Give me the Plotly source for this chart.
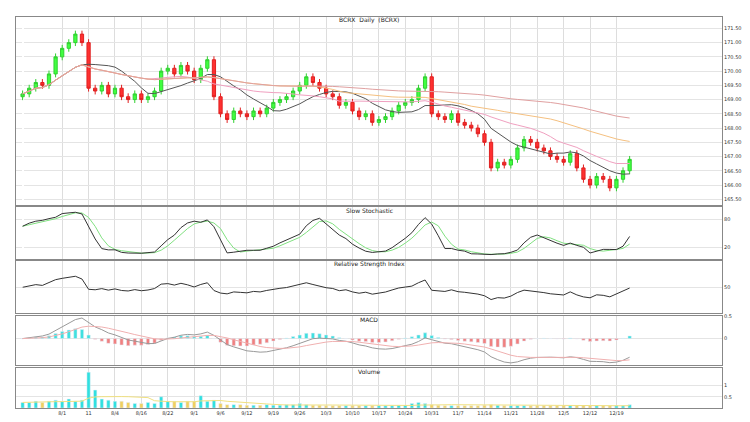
import numpy as np
import plotly.graph_objects as go
from plotly.subplots import make_subplots

# ---------- data ----------
closes = [169.2, 169.4, 169.6, 169.5, 169.9, 170.5, 170.8, 171.0, 171.3, 171.0,
          169.4, 169.3, 169.5, 169.2, 169.4, 169.1, 169.0, 169.2, 169.0, 169.1,
          169.3, 170.0, 170.1, 169.9, 170.2, 170.0, 169.7, 170.1, 170.4, 169.1,
          168.5, 168.3, 168.6, 168.5, 168.4, 168.6, 168.5, 168.7, 168.9, 169.0,
          169.1, 169.3, 169.5, 169.8, 169.6, 169.4, 169.2, 169.1, 168.8, 168.9,
          168.6, 168.4, 168.5, 168.2, 168.3, 168.4, 168.6, 168.8, 168.9, 169.0,
          169.4, 169.8, 168.5, 168.4, 168.3, 168.5, 168.2, 168.1, 168.0, 167.8,
          167.5, 166.6, 166.8, 166.7, 166.9, 167.3, 167.6, 167.5, 167.3, 167.2,
          167.0, 166.9, 166.8, 167.1, 166.6, 166.2, 166.0, 166.3, 166.2, 165.9,
          166.2, 166.5, 166.9]
volumes = [0.25, 0.25, 0.3, 0.25, 0.3, 0.35, 0.3, 0.4, 0.3, 0.35,
           1.6, 0.8, 0.4, 0.35, 0.3, 0.3, 0.25, 0.2, 0.2, 0.25,
           0.2, 0.5, 0.3, 0.3, 0.25, 0.3, 0.3, 0.55, 0.3, 0.35,
           0.2, 0.15, 0.15, 0.15, 0.12, 0.12, 0.12, 0.15, 0.12, 0.12,
           0.15, 0.15, 0.2, 0.15, 0.12, 0.12, 0.1, 0.1, 0.1, 0.1,
           0.1, 0.1, 0.1, 0.1, 0.1, 0.1, 0.1, 0.12, 0.12, 0.2,
           0.25, 0.2, 0.15, 0.12, 0.1, 0.1, 0.1, 0.1, 0.1, 0.1,
           0.12, 0.15, 0.12, 0.1, 0.1, 0.1, 0.1, 0.1, 0.1, 0.1,
           0.1, 0.1, 0.1, 0.1, 0.1, 0.1, 0.1, 0.1, 0.1, 0.1,
           0.1, 0.1, 0.15]
tick_pos = [6, 10, 14, 18, 22, 26, 30, 34, 38, 42, 46, 50, 54, 58, 62, 66, 70, 74, 78, 82, 86, 90]
tick_text = ["8/1", "11", "8/4", "8/16", "8/22", "9/1", "9/6", "9/12", "9/19", "9/26",
             "10/3", "10/10", "10/17", "10/24", "10/31", "11/7", "11/14", "11/21", "11/28", "12/5", "12/12", "12/19"]
band_levels = [167.95, 167.0, 166.25]
title = "BCRX  Daily  (BCRX)"

n = len(closes)
x = np.arange(n)
c = np.array(closes)
o = np.r_[c[0] - 0.1, c[:-1]]
h = np.maximum(o, c) + 0.12
l = np.minimum(o, c) - 0.12

def sma(a, w):
    return np.array([a[max(0, i - w + 1):i + 1].mean() for i in range(len(a))])

def ema(a, w):
    k = 2 / (w + 1); out = [a[0]]
    for v in a[1:]:
        out.append(out[-1] + k * (v - out[-1]))
    return np.array(out)

# stochastic
k_raw = np.array([(c[i] - l[max(0, i-13):i+1].min()) / (h[max(0, i-13):i+1].max() - l[max(0, i-13):i+1].min() + 1e-9) * 100 for i in range(n)])
slow_k = sma(k_raw, 3); slow_d = sma(slow_k, 3)
# rsi (Wilder, seeded with averages)
d = np.diff(c, prepend=c[0])
g = np.clip(d, 0, None); ls = np.clip(-d, 0, None)
ag, al = 0.15, 0.15
rsi = []
for i in range(n):
    ag = (ag * 13 + g[i]) / 14; al = (al * 13 + ls[i]) / 14
    rsi.append(100 - 100 / (1 + ag / al))
macd = ema(c, 12) - ema(c, 26); sig = ema(macd, 9); hist = macd - sig

fig = make_subplots(rows=5, cols=1, shared_xaxes=True, vertical_spacing=0.006,
                    row_heights=[0.49, 0.135, 0.135, 0.13, 0.105],
                    subplot_titles=(title, "Slow Stochastic", "Relative Strength Index", "MACD", "Volume"))

for lvl in band_levels:
    fig.add_hrect(y0=lvl - 0.05, y1=lvl + 0.05, fillcolor="rgba(255,150,150,0.3)", line_width=0, row=1, col=1)
fig.add_trace(go.Scatter(x=x, y=sma(c, 10), line=dict(color="#555", width=1)), row=1, col=1)
fig.add_trace(go.Scatter(x=x, y=sma(c, 20), line=dict(color="#f0a0c0", width=1)), row=1, col=1)
fig.add_trace(go.Scatter(x=x, y=sma(c, 40), line=dict(color="#f5c080", width=1)), row=1, col=1)
fig.add_trace(go.Scatter(x=x, y=sma(c, 80), line=dict(color="#e0a0a0", width=1)), row=1, col=1)
fig.add_trace(go.Candlestick(x=x, open=o, high=h, low=l, close=c,
                             increasing=dict(line=dict(color="#30d030", width=1), fillcolor="#40ff40"),
                             decreasing=dict(line=dict(color="#e02020", width=1), fillcolor="#ff3030")), row=1, col=1)

fig.add_trace(go.Scatter(x=x, y=slow_d, line=dict(color="#80e080", width=1)), row=2, col=1)
fig.add_trace(go.Scatter(x=x, y=slow_k, line=dict(color="#333", width=1)), row=2, col=1)
fig.add_trace(go.Scatter(x=x, y=rsi, line=dict(color="#333", width=1)), row=3, col=1)
fig.add_trace(go.Bar(x=x, y=hist, marker_color=["#40e0e0" if v >= 0 else "#f08080" for v in hist]), row=4, col=1)
fig.add_trace(go.Scatter(x=x, y=macd, line=dict(color="#999", width=1)), row=4, col=1)
fig.add_trace(go.Scatter(x=x, y=sig, line=dict(color="#f0b0b0", width=1)), row=4, col=1)
fig.add_trace(go.Bar(x=x, y=volumes, marker_color=["#30e0e0" if volumes[i] > 0.3 or c[i] >= o[i] else "#f0d060" for i in range(n)]), row=5, col=1)
fig.add_trace(go.Scatter(x=x, y=sma(np.array(volumes), 10), line=dict(color="#f0e080", width=1)), row=5, col=1)

fig.update_layout(width=750, height=422, showlegend=False, plot_bgcolor="white", paper_bgcolor="white",
                  margin=dict(l=8, r=36, t=6, b=22), bargap=0.5,
                  font=dict(family="DejaVu Sans", size=6, color="#333"))
for a in fig.layout.annotations:
    a.font = dict(size=6, color="#222"); a.yshift = -9
fig.update_xaxes(showgrid=True, gridcolor="#ddd", range=[-1, 106], rangeslider_visible=False,
                 showline=True, linecolor="#888", mirror=True, tickvals=tick_pos, ticktext=tick_text,
                 tickfont=dict(size=5))
fig.update_yaxes(showgrid=True, gridcolor="#e4e4e4", side="right", showline=True, linecolor="#888",
                 mirror=True, tickfont=dict(size=5), zeroline=False)
fig.update_yaxes(range=[165.3, 171.9], dtick=0.5, tickformat=".2f", row=1, col=1)
fig.update_yaxes(range=[-5, 105], tickvals=[20, 80], row=2, col=1)
fig.update_yaxes(range=[0, 100], tickvals=[50], row=3, col=1)
fig.update_yaxes(tickvals=[0, 0.5], row=4, col=1)
fig.update_yaxes(range=[0, 1.8], tickvals=[0.5, 1], row=5, col=1)

fig.write_html("out.html")
